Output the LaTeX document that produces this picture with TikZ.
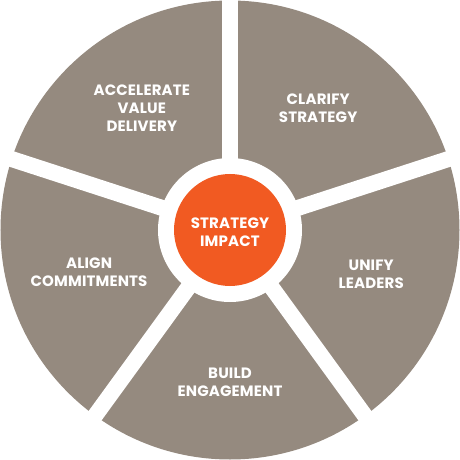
\documentclass[tikz,border=0pt]{standalone}
\usepackage{fontspec}
\newfontfamily\labfont{Poppins Bold}[LetterSpace=1]
\definecolor{wedgegray}{HTML}{958A7F}
\definecolor{huborange}{HTML}{F15A22}
\begin{document}
\begin{tikzpicture}[x=1pt,y=1pt,
  lab/.style={text=white,font=\labfont\fontsize{15}{18}\selectfont,align=center,inner sep=0pt}]
\useasboundingbox (-230,-230) rectangle (230,230);
\fill[wedgegray] (0,0) circle (229.5);
\foreach \a in {90,18,-54,-126,162}
  \fill[white,rotate=\a] (0,-8) rectangle (240,8);
\fill[white] (0,0) circle (72);
\node[circle,fill=huborange,minimum size=112pt,inner sep=0pt] (hub) at (0,0) {};
\node[lab] (himp) at (0,-2.5) {STRATEGY\\IMPACT};
\node[lab] (accel) at (126:150) {ACCELERATE\\VALUE\\DELIVERY};
\node[lab] (clar) at (54:150) {CLARIFY\\STRATEGY};
\node[lab] (unify) at (-17.5:148) {UNIFY\\LEADERS};
\node[lab] (build) at (-90:152) {BUILD\\ENGAGEMENT};
\node[lab] (align) at (196.5:147) {ALIGN\\COMMITMENTS};
\end{tikzpicture}
\end{document}
